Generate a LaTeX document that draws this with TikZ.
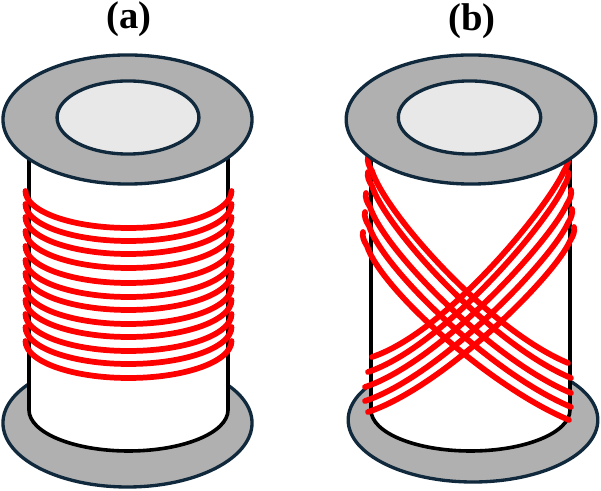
\documentclass[tikz,border=0pt]{standalone}
\usepackage{fontspec}
\setmainfont{Liberation Serif}
\definecolor{edgeblue}{HTML}{10293C}
\definecolor{flangegray}{HTML}{B0B0B0}
\definecolor{holegray}{HTML}{E8E8E8}
\tikzset{
  flange/.style={draw=edgeblue,fill=flangegray,line width=2.5pt},
  hole/.style={draw=edgeblue,fill=holegray,line width=2.5pt},
  tube/.style={draw=black,fill=white,line width=2.7pt},
  wire/.style={draw=red,line width=4.3pt,line cap=round},
  tag/.style={font=\bfseries\fontsize{29}{32}\selectfont,anchor=base,inner sep=0pt}
}
\newcommand{\coilturn}[1]{%
  \draw[wire] (25.5,#1-37) .. controls (25.5,#1-16.6) and (71.5,#1) .. (128.5,#1)
     .. controls (185.5,#1) and (231.5,#1-16.6) .. (231.5,#1-37);
}
\newcommand{\strandA}[4]{%
  \draw[wire] (#1,#2) .. controls (#1-1,#2+5) and (#1+1,#2+9) .. (#1+4,#2+14)
     .. controls (#1+18,#2+57) and (#3-79,#4-33) .. (#3,#4);
}
\newcommand{\strandB}[4]{%
  \draw[wire] (#1,#2) .. controls (#1+1,#2+5) and (#1-1,#2+9) .. (#1-4,#2+14)
     .. controls (#1-20,#2+50) and (#3+75,#4-25) .. (#3,#4);
}
\begin{document}
\begin{tikzpicture}[x=0.75pt,y=-0.75pt]
\useasboundingbox (0,0) rectangle (601,491);
\fill[white] (0,0) rectangle (601,491);
% ---- spool (a)
\path[flange] (127.5,423) ellipse [x radius=93.4pt,y radius=48pt];
\path[tube] (29,150) -- (29,410) .. controls (29,432.6) and (73.5,451) .. (128.5,451)
   .. controls (183.5,451) and (228,432.6) .. (228,410) -- (228,150);
\foreach \b in {228,241,254,268,283,297,310,324,337,351,364,378} {\coilturn{\b}}
\path[flange] (127.5,119.5) ellipse [x radius=93.4pt,y radius=48.4pt];
\path[hole] (128,117.5) ellipse [x radius=53.2pt,y radius=27.4pt];
\node[tag] (taga) at (129,29) {(a)};
% ---- spool (b)
\path[flange] (473,420) ellipse [x radius=93.6pt,y radius=46.5pt];
\path[tube] (371,150) -- (371,410) .. controls (371,432.6) and (415.5,451) .. (470.5,451)
   .. controls (525.5,451) and (570,432.6) .. (570,410) -- (570,150);
\strandA{368}{157}{568}{363}
\strandA{368}{172}{571}{378}
\strandA{366}{193}{571}{393}
\strandA{365}{212}{571}{407}
\strandA{363}{232}{569}{420}
\strandB{568}{157}{372}{357}
\strandB{568}{172}{368}{372}
\strandB{571}{190}{365}{387}
\strandB{572}{209}{365}{401}
\strandB{574}{227}{368}{412}
\path[flange] (471,119.5) ellipse [x radius=93.6pt,y radius=48.4pt];
\path[hole] (469.5,117.5) ellipse [x radius=53.4pt,y radius=27.4pt];
\node[tag] (tagb) at (472,30.5) {(b)};
\end{tikzpicture}
\end{document}
